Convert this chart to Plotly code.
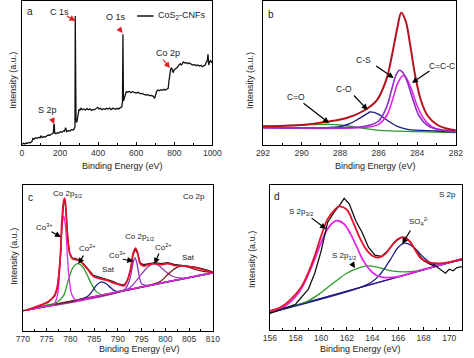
import plotly.graph_objects as go

W, H = 474, 358

# ---------------- Panel a: survey spectrum ----------------
a_ev = [0, 8, 15, 22, 30, 38, 45, 52, 58, 65, 72, 80, 88, 95, 100, 106, 114, 122, 130, 138, 146, 154, 160, 165, 168, 170, 172, 178, 186, 194, 202, 210, 218, 224, 229, 232, 236, 244, 252, 260, 268, 274, 278.5, 280, 281.5, 284, 288, 292, 296, 300, 304, 310, 318, 326, 334, 342, 350, 358, 366, 374, 382, 390, 398, 404, 412, 420, 428, 436, 444, 452, 460, 468, 476, 484, 492, 500, 508, 516, 524, 528, 530.5, 533, 537, 542, 548, 556, 564, 572, 580, 590, 600, 610, 620, 630, 640, 650, 660, 670, 680, 690, 697, 702, 708, 714, 722, 730, 738, 746, 754, 762, 768, 772, 776, 781, 786, 790, 794, 800, 806, 814, 822, 831, 838, 848, 856, 865, 872, 880, 890, 899, 908, 916, 924, 932, 940, 948, 956, 962, 968, 973, 977, 981, 986, 991, 996, 1000]
a_int = [2, 5, 3, 6, 5, 8, 7, 10, 20, 18, 22, 20, 23, 22, 28, 22, 25, 24, 27, 30, 29, 32, 33, 36, 64, 58, 36, 34, 37, 36, 40, 38, 42, 41, 52, 46, 40, 43, 42, 46, 45, 48, 55, 387, 80, 72, 68, 78, 95, 108, 104, 110, 106, 108, 105, 109, 106, 108, 104, 107, 106, 110, 113, 108, 110, 106, 109, 107, 110, 108, 111, 106, 110, 109, 107, 110, 108, 112, 114, 130, 332, 132, 140, 150, 160, 158, 161, 157, 160, 158, 156, 158, 154, 155, 152, 150, 151, 148, 149, 146, 140, 150, 162, 165, 163, 166, 164, 167, 165, 168, 170, 192, 210, 227, 232, 222, 217, 226, 228, 232, 238, 244, 240, 249, 246, 247, 244, 246, 242, 240, 241, 238, 240, 237, 239, 235, 238, 240, 248, 252, 272, 240, 250, 253, 248, 250]

# ---------------- Panel b: C 1s ----------------
b_env_ev = [292, 290, 288.45, 287.7, 286.8, 286.1, 285.6, 285.3, 285.03, 284.83, 284.6, 284.37, 284.12, 283.8, 283.45, 282.95, 282.45, 282]
b_env = [56, 60, 72, 80, 102, 134, 197, 272, 352, 397, 372, 302, 212, 132, 87, 60, 49, 44]
b_co_ev = [292, 289, 288, 287.5, 287, 286.6, 286.45, 286.0, 285.5, 285, 284.5, 283, 282]
b_co = [52, 52, 55, 64, 80, 94, 99, 92, 72, 55, 47, 42, 39]
b_cs_ev = [292, 287, 286.5, 286, 285.6, 285.3, 285.1, 284.92, 284.7, 284.5, 284.2, 283.9, 283.5, 283, 282]
b_cs = [52, 54, 59, 72, 112, 172, 210, 224, 214, 187, 132, 87, 60, 47, 40]
b_cc_ev = [292, 286.5, 286, 285.6, 285.3, 285.0, 284.75, 284.6, 284.3, 284.0, 283.7, 283.3, 283, 282]
b_cc = [52, 54, 62, 87, 132, 187, 208, 204, 167, 117, 82, 57, 49, 42]
b_cdo_ev = [292, 290, 289, 288.5, 288, 287, 286, 284, 282]
b_cdo = [56, 60, 62, 62, 60, 52, 44, 40, 37]

# ---------------- Panel c: Co 2p ----------------
c_env_ev = [770.7, 773.3, 775.3, 776.7, 777.3, 777.9, 778.2, 778.6, 778.8, 779.05, 779.4, 779.8, 780.4, 781.1, 781.8, 782.8, 783.8, 784.8, 786.2, 787.6, 788.9, 790.3, 791.3, 792.0, 792.7, 793.2, 793.7, 794.2, 794.7, 795.4, 796.4, 797.8, 799.1, 800.5, 801.8, 803.2, 804.6, 806.6, 808.3, 810]
c_env = [63, 76, 88, 108, 138, 228, 328, 393, 400, 368, 288, 238, 218, 215, 213, 200, 183, 165, 158, 153, 146, 140, 136, 153, 188, 233, 250, 233, 203, 196, 200, 203, 200, 203, 198, 196, 195, 190, 183, 176]
c_dat_ev = [770.7, 772.0, 773.3, 774.5, 775.3, 776.7, 777.3, 777.9, 778.2, 778.6, 778.8, 779.05, 779.4, 779.8, 780.4, 781.1, 781.8, 782.8, 783.8, 784.8, 786.2, 787.6, 788.9, 790.3, 791.3, 792.0, 792.7, 793.2, 793.7, 794.2, 794.7, 795.4, 796.4, 797.8, 799.1, 800.5, 801.8, 803.2, 804.6, 806.6, 808.3, 809.2, 810]
c_dat = [61, 68, 74, 80, 86, 105, 132, 220, 320, 388, 396, 366, 286, 236, 220, 218, 214, 202, 186, 168, 162, 156, 150, 141, 138, 152, 186, 230, 246, 232, 205, 200, 203, 206, 203, 206, 201, 198, 196, 192, 186, 182, 178]
c_base_ev = [770, 810]
c_base = [61, 175]
c_m1_ev = [770.7, 775, 776.5, 777.3, 777.8, 778.2, 778.6, 779.0, 779.4, 779.8, 780.3, 781, 782, 784, 790, 800, 810]
c_m1 = [63, 75, 80, 110, 200, 300, 348, 310, 220, 150, 110, 95, 92, 100, 118, 147, 175]
c_g1_ev = [770.7, 775, 777, 778.5, 779.5, 780.5, 781.5, 782.5, 783.5, 784.5, 785.5, 786.5, 787.5, 790, 800, 810]
c_g1 = [63, 78, 85, 105, 150, 190, 203, 195, 170, 140, 118, 110, 108, 118, 147, 175]
c_s1_ev = [770.7, 782, 783.5, 784.5, 785.5, 786.5, 787.5, 788.5, 789.5, 790.5, 792, 800, 810]
c_s1 = [63, 95, 103, 118, 138, 148, 143, 130, 120, 120, 124, 147, 175]
c_p1_ev = [770.7, 790, 791.5, 792.5, 793.2, 793.6, 794.0, 794.5, 795.0, 795.7, 797, 800, 810]
c_p1 = [63, 118, 126, 155, 205, 220, 205, 165, 142, 138, 138, 147, 175]
c_p2_ev = [770.7, 792, 793.5, 795, 796.5, 797.5, 798.5, 800, 801.5, 803, 804.6, 807, 810]
c_p2 = [63, 126, 145, 172, 195, 203, 198, 180, 165, 160, 160, 168, 175]
c_s2_ev = [770.7, 795, 797, 799, 800.5, 802, 803.5, 805, 806.5, 808, 810]
c_s2 = [63, 132, 140, 150, 170, 188, 196, 192, 185, 180, 176]

# ---------------- Panel d: S 2p ----------------
d_dat_ev = [156, 157, 157.5, 158, 158.5, 159, 159.5, 160, 160.5, 161, 161.5, 161.8, 162.2, 162.7, 163.2, 163.7, 164.2, 164.7, 165.2, 165.7, 166.2, 166.6, 167, 167.5, 168, 168.5, 169, 169.4, 169.7, 170, 170.3, 170.6, 171]
d_dat = [50, 62, 70, 77, 100, 122, 170, 237, 322, 352, 377, 394, 377, 327, 292, 247, 224, 220, 237, 262, 277, 277, 262, 232, 207, 197, 190, 177, 170, 182, 177, 187, 190]
d_env_ev = [156, 157, 158, 158.5, 159, 159.5, 160, 160.5, 161, 161.4, 162, 162.5, 163, 163.5, 164, 164.5, 165, 165.5, 166, 166.4, 166.8, 167.3, 167.8, 168.5, 169.5, 171]
d_env = [57, 72, 107, 132, 172, 222, 282, 332, 357, 370, 360, 322, 277, 242, 222, 217, 227, 252, 272, 277, 270, 242, 214, 202, 200, 212]
d_m_ev = [156, 157, 158, 158.5, 159, 159.5, 160, 160.5, 161, 161.3, 161.8, 162.3, 162.8, 163.3, 163.8, 164.3, 165, 166, 167, 169, 171]
d_m = [54, 67, 100, 127, 167, 212, 262, 302, 324, 327, 317, 287, 247, 207, 180, 164, 157, 160, 170, 192, 213]
d_g_ev = [156, 158, 159, 160, 161, 162, 163, 163.6, 164.5, 165.5, 166.5, 167.5, 168.5, 169.5, 171]
d_g = [57, 74, 87, 112, 142, 170, 187, 192, 187, 177, 174, 177, 187, 197, 212]
d_b_ev = [156, 163, 164, 164.5, 165, 165.5, 166, 166.5, 167, 167.5, 168, 168.5, 169, 170, 171]
d_b = [52, 127, 145, 162, 187, 217, 247, 260, 254, 237, 217, 202, 194, 202, 210]
d_base_ev = [156, 171]
d_base = [52, 212]

a_ticks = [0, 200, 400, 600, 800, 1000]
b_ticks = [292, 290, 288, 286, 284, 282]
c_ticks = [770, 775, 780, 785, 790, 795, 800, 805, 810]
d_ticks = [156, 158, 160, 162, 164, 166, 168, 170]

FONT = "Arial, Liberation Sans, sans-serif"
RED = "#e3122c"
DRED = "#b3121e"
GREEN = "#2c9a2c"
NAVY = "#1c1c82"
PURPLE = "#8a32c8"
MAG = "#e424e4"
BROWN = "#741c1c"

fig = go.Figure()

def add(x, y, ax, color, width=1.3, shape="spline"):
    fig.add_trace(go.Scatter(x=x, y=y, mode="lines", xaxis="x" + ax, yaxis="y" + ax,
                             line=dict(color=color, width=width, shape=shape),
                             showlegend=False, hoverinfo="skip"))

# a
add(a_ev, a_int, "", "#111111", 1.3, "linear")
# b
add(b_cdo_ev, b_cdo, "2", GREEN)
add(b_co_ev, b_co, "2", NAVY)
add(b_cc_ev, b_cc, "2", MAG, 1.6)
add(b_cs_ev, b_cs, "2", PURPLE, 1.6)
add(b_env_ev, b_env, "2", DRED, 2.0)
# c
add(c_dat_ev, c_dat, "3", "#111111", 1.2, "linear")
add(c_base_ev, c_base, "3", BROWN, 1.5, "linear")
add(c_g1_ev, c_g1, "3", GREEN)
add(c_s1_ev, c_s1, "3", NAVY)
add(c_p1_ev, c_p1, "3", PURPLE)
add(c_p2_ev, c_p2, "3", "#9a3cb0")
add(c_s2_ev, c_s2, "3", BROWN)
add(c_m1_ev, c_m1, "3", MAG)
add(c_env_ev, c_env, "3", RED, 1.8)
# d
add(d_base_ev, d_base, "4", PURPLE, 1.3, "linear")
add(d_base_ev, d_base, "4", NAVY, 1.3, "linear")
add(d_g_ev, d_g, "4", GREEN)
add(d_b_ev, d_b, "4", NAVY)
add(d_m_ev, d_m, "4", MAG, 1.8)
add(d_dat_ev, d_dat, "4", "#111111", 1.3, "linear")
add(d_env_ev, d_env, "4", RED, 1.8)

def xd(l, r):
    return [l / W, r / W]

def yd(t, b):
    return [1 - b / H, 1 - t / H]

axcommon = dict(showline=True, mirror=True, linecolor="black", linewidth=1,
                showgrid=False, zeroline=False, ticks="inside", ticklen=3,
                tickcolor="black", tickfont=dict(size=8.5, color="#333333", family=FONT))
ycommon = dict(showline=True, mirror=True, linecolor="black", linewidth=1,
               showgrid=False, zeroline=False, showticklabels=False, ticks="")

fig.update_layout(
    width=W, height=H, margin=dict(l=0, r=0, t=0, b=0),
    paper_bgcolor="white", plot_bgcolor="white",
    font=dict(family=FONT, color="#222222"),
    xaxis=dict(domain=xd(15.5, 213), range=[0, 1000], tickvals=a_ticks, anchor="y",
               minor=dict(dtick=100, ticks="inside", ticklen=2, tickcolor="black"), **axcommon),
    yaxis=dict(domain=yd(1, 145), range=[0, 432], anchor="x", **ycommon),
    xaxis2=dict(domain=xd(265.5, 465.5), range=[292, 282], tickvals=b_ticks, anchor="y2",
                minor=dict(dtick=1, ticks="inside", ticklen=2, tickcolor="black"), **axcommon),
    yaxis2=dict(domain=yd(1, 145), range=[0, 432], anchor="x2", **ycommon),
    xaxis3=dict(domain=xd(16.5, 213.5), range=[770, 810], tickvals=c_ticks, anchor="y3",
                minor=dict(dtick=2.5, ticks="inside", ticklen=2, tickcolor="black"), **axcommon),
    yaxis3=dict(domain=yd(185, 331), range=[0, 440], anchor="x3", **ycommon),
    xaxis4=dict(domain=xd(272.7, 472), range=[156, 171], tickvals=d_ticks, anchor="y4",
                minor=dict(dtick=1, ticks="inside", ticklen=2, tickcolor="black"), **axcommon),
    yaxis4=dict(domain=yd(185, 330), range=[0, 434], anchor="x4", **ycommon),
)

ann = []

def txt(s, x, y, size=9, xanchor="center", angle=0, color="#222222"):
    ann.append(dict(text=s, x=x / W, y=1 - y / H, xref="paper", yref="paper",
                    showarrow=False, xanchor=xanchor, yanchor="middle", textangle=angle,
                    font=dict(size=size, color=color, family=FONT)))

def arrow(tx, ty, hx, hy, color="black"):
    ann.append(dict(text="", x=hx / W, y=1 - hy / H, xref="paper", yref="paper",
                    ax=tx - hx, ay=ty - hy, showarrow=True, arrowhead=2, arrowsize=1,
                    arrowwidth=1.2, arrowcolor=color))

# axis titles
for (x, y) in [(120, 166), (382, 166), (137, 349), (367, 349)]:
    txt("Binding Energy (eV)", x, y, 9)
for (x, y) in [(6, 80), (252, 80), (7, 256), (254, 259)]:
    txt("Intensity (a.u.)", x, y, 9, angle=-90)

# panel a labels
txt("a", 24, 12, 10)
txt("C 1s", 54, 12, 9)
arrow(61, 15, 71, 21, "#e02020")
txt("O 1s", 113, 17, 9)
arrow(115, 27, 120, 33, "#e02020")
txt("Co 2p", 167, 53, 9)
arrow(161, 58, 169, 68, "#e02020")
txt("S 2p", 42, 110, 9)
arrow(46, 117, 49, 124, "#e02020")
txt("CoS<sub>2</sub>-CNFs", 155, 16, 9, xanchor="left")

# panel b labels
txt("b", 274, 14, 10)
txt("C-S", 370, 60, 8.5)
arrow(382, 65, 401, 78)
txt("C=C-C", 451, 66, 8.5)
arrow(439, 70, 420, 83)
txt("C-O", 350, 89, 8.5)
arrow(359, 94, 374, 110)
txt("C=O", 300, 97, 8.5)
arrow(307, 102, 334, 123)

# panel c labels
txt("c", 24, 197, 10)
txt("Co 2p<sub>3/2</sub>", 63, 194, 8)
txt("Co 2p", 194, 196, 8)
txt("Co<sup>3+</sup>", 39, 227, 8)
arrow(45, 231, 56, 237)
txt("Co<sup>2+</sup>", 83, 248, 8)
arrow(80, 254, 74, 264)
txt("Sat", 105, 269, 8)
txt("Co<sup>3+</sup>", 115, 255, 8)
arrow(119, 259, 131, 261)
txt("Co 2p<sub>1/2</sub>", 137, 237, 8)
txt("Co<sup>2+</sup>", 162, 247, 8)
arrow(158, 252, 153, 264)
txt("Sat", 188, 257, 8)

# panel d labels
txt("d", 280, 196, 10)
txt("S 2p", 457, 194, 8)
txt("S 2p<sub>3/2</sub>", 305, 212, 8)
arrow(315, 217, 331, 229)
txt("SO<sub>4</sub><sup>2-</sup>", 427, 222, 8)
arrow(419, 229, 410, 244)
txt("S 2p<sub>1/2</sub>", 350, 256, 8)
arrow(357, 262, 361, 268)

fig.update_layout(annotations=ann,
                  shapes=[dict(type="line", xref="paper", yref="paper",
                               x0=135 / W, x1=152 / W, y0=1 - 16 / H, y1=1 - 16 / H,
                               line=dict(color="#111111", width=1.5))])

fig.write_html("out.html", config={"displayModeBar": False},
               post_script="document.body.style.margin='0px';document.body.style.padding='0px';")
